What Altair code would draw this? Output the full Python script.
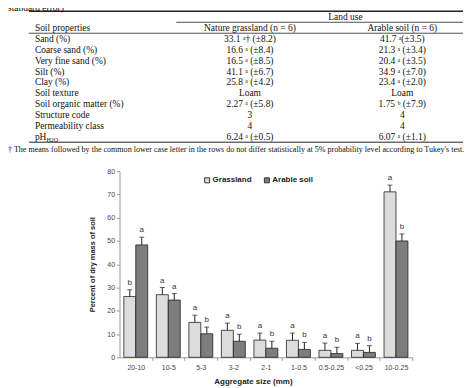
import altair as alt
import pandas as pd

# ---------------- bar chart data ----------------
categories = ["20-10", "10-5", "5-3", "3-2", "2-1", "1-0.5", "0.5-0.25", "<0.25", "10-0.25"]
series = ["Grassland", "Arable soil"]
grassland = [26.1, 26.9, 15.0, 11.6, 7.4, 7.3, 3.0, 3.0, 71.1]
grassland_se = [2.9, 3.1, 3.1, 3.1, 3.0, 3.1, 3.1, 3.0, 2.9]
arable = [48.3, 24.6, 10.1, 6.9, 3.9, 3.4, 1.6, 2.1, 50.0]
arable_se = [3.3, 2.8, 2.9, 3.0, 3.0, 3.0, 2.7, 2.9, 3.0]
grassland_letters = ["b", "a", "a", "a", "a", "a", "a", "a", "a"]
arable_letters = ["a", "a", "b", "b", "b", "b", "b", "b", "b"]
y_ticks = [0, 10, 20, 30, 40, 50, 60, 70, 80]

# ---------------- table data ----------------
caption_tail = "standard error)"
land_use_header = "Land use"
column_headers = ["Soil properties", "Nature grassland (n = 6)", "Arable soil (n = 6)"]
properties = ["Sand (%)", "Coarse sand (%)", "Very fine sand (%)", "Silt (%)", "Clay (%)",
              "Soil texture", "Soil organic matter (%)", "Structure code",
              "Permeability class", "pH"]
grassland_cells = ["33.1 \u1d43\u2020 (\u00b18.2)", "16.6 \u1d43 (\u00b18.4)", "16.5 \u1d43 (\u00b18.5)",
                   "41.1 \u1d43 (\u00b16.7)", "25.8 \u1d43 (\u00b14.2)", "Loam",
                   "2.27 \u1d43 (\u00b15.8)", "3", "4", "6.24 \u1d43 (\u00b10.5)"]
arable_cells = ["41.7 \u1d43(\u00b13.5)", "21.3 \u1d43 (\u00b13.4)", "20.4 \u1d43 (\u00b13.5)",
                "34.9 \u1d43 (\u00b17.0)", "23.4 \u1d43 (\u00b12.0)", "Loam",
                "1.75 \u1d47 (\u00b17.9)", "4", "4", "6.07 \u1d43 (\u00b11.1)"]
ph_subscript = "H2O"
footnote = ("\u2020 The means followed by the common lower case letter in the rows do not differ "
            "statistically at 5% probability level according to Tukey's test.")

# ---------------- layout (positions, not data) ----------------
COL = {"cap": 8, "label": 35, "grass": 251, "arable": 404, "landuse": 347,
       "rule_l": 29, "rule_lu": 177, "rule_r": 465}
SLOT = {"cap": -2.8, "top_rule": -2.5, "landuse": -2, "lu_rule": -1.5,
        "header": -1, "hdr_rule": -0.5, "bottom_rule": 9.45, "foot": 10.2}

# ---------------- bar data frame ----------------
rows = []
for i, c in enumerate(categories):
    rows.append(dict(cat=c, series=series[0], val=grassland[i], top=grassland[i] + grassland_se[i],
                     letter=grassland_letters[i]))
    rows.append(dict(cat=c, series=series[1], val=arable[i], top=arable[i] + arable_se[i],
                     letter=arable_letters[i]))
bars_df = pd.DataFrame(rows)

SANS = "Liberation Sans"
SERIF = "Liberation Serif"
step = 294 / len(categories)

x_enc = alt.X("cat:N", sort=categories, title="Aggregate size (mm)",
              scale=alt.Scale(paddingInner=0.265, paddingOuter=0.1325),
              axis=alt.Axis(labelAngle=0, labelFont=SANS, labelFontSize=7, labelColor="#444",
                            tickSize=3, tickColor="#999", domainColor="#999",
                            tickOffset=step / 2, labelOffset=-step / 2, labelPadding=3,
                            titleFont=SANS, titleFontSize=8, titleFontWeight="bold",
                            titleColor="#222", titleX=134, titleY=20))
xo_enc = alt.XOffset("series:N", sort=series, scale=alt.Scale(paddingInner=0, paddingOuter=0))
y_scale = alt.Scale(domain=[0, 80], nice=False)
y_axis = alt.Axis(values=y_ticks, labelFont=SANS, labelFontSize=7, labelColor="#444",
                  tickSize=3, tickColor="#999", domainColor="#999", labelPadding=2, grid=False,
                  titleFont=SANS, titleFontSize=7.5, titleFontWeight="bold", titleColor="#222",
                  titlePadding=10)
Y_TITLE = "Percent of dry mass of soil"


def y_enc(field):
    return alt.Y(field, scale=y_scale, axis=y_axis, title=Y_TITLE)


bars = alt.Chart(bars_df).mark_bar(stroke="#222", strokeWidth=0.8).encode(
    x=x_enc, xOffset=xo_enc, y=y_enc("val:Q"),
    color=alt.Color("series:N", sort=series,
                    scale=alt.Scale(domain=series, range=["#dcdcdc", "#7d7d7d"]),
                    legend=alt.Legend(orient="none", legendX=84, legendY=5, direction="horizontal",
                                      title=None, symbolType="square", symbolSize=25,
                                      symbolStrokeColor="#333", symbolStrokeWidth=1,
                                      labelFont=SANS, labelFontSize=8, labelFontWeight="bold",
                                      labelColor="#222", labelOffset=1.5, columnPadding=10,
                                      padding=0)))
err = alt.Chart(bars_df).mark_rule(color="#222", strokeWidth=1).encode(
    x=x_enc, xOffset=xo_enc, y=y_enc("val:Q"), y2="top:Q")
cap = alt.Chart(bars_df).mark_tick(color="#222", size=5, thickness=1).encode(
    x=x_enc, xOffset=xo_enc, y=y_enc("top:Q"))
letters = alt.Chart(bars_df).mark_text(dy=-3, baseline="bottom", font=SANS, fontSize=8,
                                       color="#333").encode(
    x=x_enc, xOffset=xo_enc, y=y_enc("top:Q"), text="letter:N")
bar_group = alt.layer(bars, err, cap, letters)

# ---------------- table frames ----------------
left_rows = [dict(t=column_headers[0], x=COL["label"], s=SLOT["header"])]
left_rows += [dict(t=p, x=COL["label"], s=i) for i, p in enumerate(properties)]
center_rows = [dict(t=land_use_header, x=COL["landuse"], s=SLOT["landuse"]),
               dict(t=column_headers[1], x=COL["grass"], s=SLOT["header"]),
               dict(t=column_headers[2], x=COL["arable"], s=SLOT["header"])]
center_rows += [dict(t=v, x=COL["grass"], s=i) for i, v in enumerate(grassland_cells)]
center_rows += [dict(t=v, x=COL["arable"], s=i) for i, v in enumerate(arable_cells)]
cap_rows = [dict(t=caption_tail, x=COL["cap"], s=SLOT["cap"])]
foot_rows = [dict(t=footnote, x=COL["cap"], s=SLOT["foot"])]
sub_rows = [dict(t=ph_subscript, x=COL["label"], s=len(properties) - 1)]
rule_rows = [dict(x=COL["rule_l"], x2=COL["rule_r"], s=SLOT["top_rule"], w=1.4),
             dict(x=COL["rule_lu"], x2=COL["rule_r"], s=SLOT["lu_rule"], w=0.8),
             dict(x=COL["rule_l"], x2=COL["rule_r"], s=SLOT["hdr_rule"], w=0.8),
             dict(x=COL["rule_l"], x2=COL["rule_r"], s=SLOT["bottom_rule"], w=1.0)]

tx_scale = alt.Scale(domain=[0, 474], range=[-120, 354], nice=False, zero=False)
ty_scale = alt.Scale(domain=[0, 9], range=[-133, -34], nice=False, zero=False)


def tx(field="x:Q"):
    return alt.X(field, scale=tx_scale, axis=None)


def ty():
    return alt.Y("s:Q", scale=ty_scale, axis=None)


def text_layer(rows_, align, size, **kw):
    return alt.Chart(pd.DataFrame(rows_)).mark_text(
        align=align, baseline="middle", font=SERIF, fontSize=size, color="#111", **kw
    ).encode(x=tx(), y=ty(), text="t:N")


t_left = text_layer(left_rows, "left", 9.5)
t_center = text_layer(center_rows, "center", 9.5)
t_cap = text_layer(cap_rows, "left", 9.5)
t_foot = text_layer(foot_rows, "left", 8.1)
t_sub = text_layer(sub_rows, "left", 6, dx=11.6, dy=3)
t_rules = alt.Chart(pd.DataFrame(rule_rows)).mark_rule(color="#222").encode(
    x=tx(), x2="x2:Q", y=ty(), strokeWidth=alt.StrokeWidth("w:Q", scale=None))
table_group = alt.layer(t_rules, t_left, t_center, t_cap, t_foot, t_sub)

chart = alt.layer(table_group, bar_group).resolve_scale(
    x="independent", y="independent"
).properties(
    width=294, height=187,
    padding={"left": 0, "top": -6, "right": 0, "bottom": 2},
).configure_view(stroke=None)

chart.save("out.html", embed_options={"renderer": "svg", "actions": False})
